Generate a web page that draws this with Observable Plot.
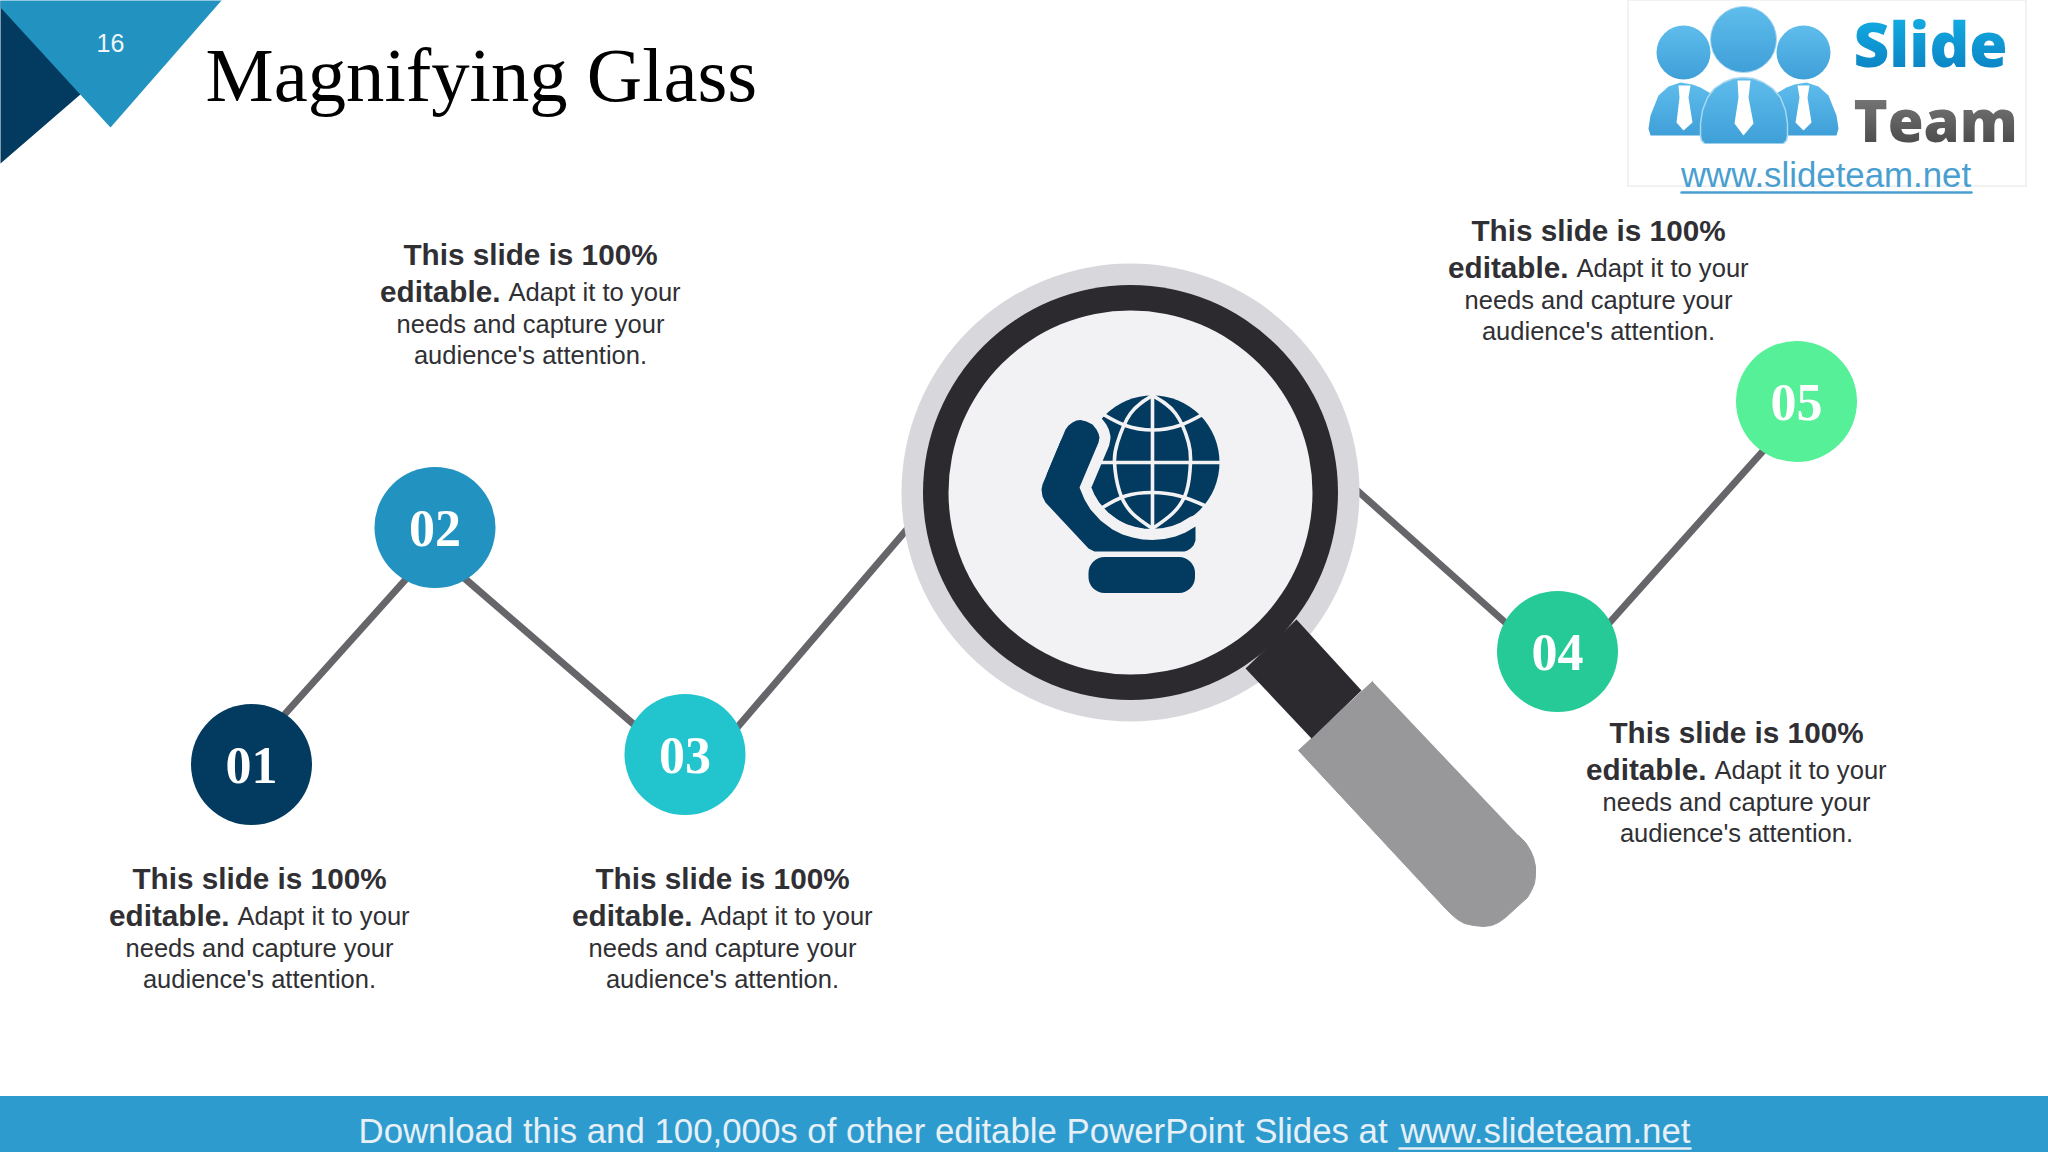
<!DOCTYPE html>
<html>
<head>
<meta charset="utf-8">
<style>html,body{margin:0;padding:0;background:#fff}svg{display:block}</style>
<script src="https://cdn.jsdelivr.net/npm/d3@7"></script>
<script src="https://cdn.jsdelivr.net/npm/@observablehq/plot@0.6"></script>
</head>
<body>
<script>
const pageTitle = "Magnifying Glass";
const pageNumber = "16";
const footerStart = "Download this and 100,000s of other editable PowerPoint Slides at ";
const footerLink = "www.slideteam.net";

const stepLabels = ["01","02","03","04","05"];
const stepX = [251,434.5,684.5,1557,1796];
const stepY = [764,527,754,651,401];
const stepColors = ["#033a5f","#2292c0","#22c5cd","#26ca97","#56f098"];

const blockX = [259,530,722,1598,1736];
const blockY = [879,255,879,231,733];
const line1 = "This slide is 100%";
const line2Bold = "editable.";
const line2 = "Adapt it to your";
const line3 = "needs and capture your";
const line4 = "audience's attention.";

const connectors = [
  [[275,724],[415,568]],
  [[455,570],[645,734]],
  [[729,736],[914,520]],
  [[1350,484],[1516,632]],
  [[1602,630],[1771,441]]
];

const triDark = [[0,0],[110,127],[81,93],[0,163]];
const triLight = [[0,7],[0,0],[221,0],[110,127]];

const glass = {x:1130,y:492};
const ringRadii = [229,207.5,182];
const ringColors = ["#d8d7dc","#2c2a2e","#f2f2f4"];
const shaft = [[1296,619],[1361,690],[1311,738],[1245,668]];
const grip = [[1372,681],[1298,750],[1445,908],[1450,913],[1457,919],[1464,923],[1473,925],[1483,926],[1491,925],[1498,922],[1505,917],[1527,897],[1531,890],[1534,883],[1535,875],[1535,866],[1533,857],[1530,850],[1525,842],[1518,835]];

const globe = {x:1152,y:462,r:67};
const meridianL = [[1152,395],[1130,413],[1117,442],[1114,462],[1119,491],[1132,513],[1152,528]];
const meridianR = [[1152,395],[1175,413],[1188,442],[1190,462],[1186,491],[1172,513],[1152,528]];
const latUp = [[1103,414],[1125,425],[1152,429.5],[1179,425],[1202,414]];
const latDown = [[1102,507],[1125,495.5],[1152,492],[1179,495.5],[1204,505]];
const gridV = [[1152,395],[1152,528]];
const gridH = [[1095,462],[1219,462]];
const hand = [[1065,429],[1068,425],[1072,422],[1076,420],[1080,419.6],[1086,421],[1092,424],[1096,429],[1098,433],[1099,437],[1098,442],[1079,487],[1084,499],[1090,509],[1100,520],[1112,529],[1122,534],[1132,537],[1142,539],[1152,539.5],[1164,538.5],[1175,536],[1185,532],[1195,526],[1195,540],[1193,545],[1190,548],[1187,550],[1184,551],[1094,551],[1088,548],[1045,502],[1042,496],[1041,489],[1042,484]];
const pedestal = {x1:1088.5,x2:1195,y1:557,y2:593};

const logoBox = {x1:1628,x2:2026,y1:0,y2:186};
const headX = [1683,1803,1743];
const headY = [52,52,39];
const bodyL = [[1650,135],[1648,128],[1650,115],[1658,95],[1668,86],[1680,82],[1692,84],[1700,87],[1712,94],[1712,135]];
const bodyR = [[1836,135],[1838,128],[1836,115],[1828,95],[1818,86],[1806,82],[1794,84],[1786,87],[1774,94],[1774,135]];
const bodyC = [[1704,143],[1701,140],[1700,135],[1700,123],[1702,110],[1707,97],[1714,88],[1723,82],[1733,78],[1743,77],[1753,78],[1763,82],[1772,88],[1780,97],[1785,110],[1787,123],[1787,135],[1786,140],[1783,143]];
const tieC = [[1737,80],[1750,80],[1748,97],[1753,123],[1743,135],[1734,123],[1738,97]];
const tieL = [[1678,85],[1690,85],[1688,97],[1692,122],[1683,130],[1676,122],[1679,97]];
const tieR = [[1797,85],[1809,85],[1807,97],[1811,122],[1803,130],[1795,122],[1799,97]];

const poly = (pts, fill, extra = {}) => Plot.line(pts, {x:d=>d[0], y:d=>d[1], fill, stroke:"none", ...extra});
const path = (pts, stroke, strokeWidth, extra = {}) => Plot.line(pts, {x:d=>d[0], y:d=>d[1], stroke, strokeWidth, ...extra});
const label = (x, y, text, o) => Plot.text([0], {x:()=>x, y:()=>y, text:()=>text, ...o});

const sans = "Liberation Sans";
const serif = "Liberation Serif";
const ink = "#303034";

function defs() {
  const d = d3.create("svg:defs");
  const grad = (id, a, b) => {
    const g = d.append("linearGradient").attr("id", id).attr("x1",0).attr("y1",0).attr("x2",0).attr("y2",1);
    g.append("stop").attr("offset","0").attr("stop-color",a);
    g.append("stop").attr("offset","1").attr("stop-color",b);
  };
  grad("gSlide","#14b8ec","#0a78bb");
  grad("gTeam","#858585","#3f3f3f");
  grad("gPerson","#5fbdec","#3f9fd8");
  return d.node();
}

const blockMarks = blockX.flatMap((cx, i) => {
  const y = blockY[i];
  return [
    label(cx, y, line1, {fontFamily:sans, fontSize:29.7, fontWeight:"bold", fill:ink}),
    label(cx-30, y+37, line2Bold, {fontFamily:sans, fontSize:29.7, fontWeight:"bold", fill:ink, textAnchor:"end"}),
    label(cx-22, y+37, line2, {fontFamily:sans, fontSize:25.6, fill:ink, textAnchor:"start"}),
    label(cx, y+69, line3, {fontFamily:sans, fontSize:25.5, fill:ink}),
    label(cx, y+100, line4, {fontFamily:sans, fontSize:25.5, fill:ink})
  ];
});

const chart = Plot.plot({
  width:2048, height:1152, margin:0,
  x:{domain:[0,2048], range:[0,2048], axis:null},
  y:{domain:[0,1152], range:[0,1152], axis:null},
  style:{background:"#fff"},
  marks:[
    defs,
    // page corner
    poly(triDark,"#033a5f"),
    poly(triLight,"#2292c0"),
    label(110,43,pageNumber,{fontFamily:sans,fontSize:25,fill:"#eef6fa"}),
    label(205,76,pageTitle,{fontFamily:serif,fontSize:76.7,fill:"#000",textAnchor:"start"}),
    // logo
    Plot.rect([logoBox],{x1:"x1",x2:"x2",y1:"y1",y2:"y2",fill:"#fff",stroke:"#eeeeee",strokeWidth:1.5}),
    Plot.dot([0,1],{x:i=>headX[i],y:i=>headY[i],r:27,fill:"url(#gPerson)"}),
    poly(bodyL,"url(#gPerson)"),
    poly(bodyR,"url(#gPerson)"),
    Plot.dot([2],{x:i=>headX[i],y:i=>headY[i],r:33,fill:"url(#gPerson)",stroke:"#a9d7f0",strokeWidth:1}),
    poly(bodyC,"url(#gPerson)",{stroke:"#a9d7f0",strokeWidth:1.5}),
    poly(tieC,"#fff"),poly(tieL,"#fff"),poly(tieR,"#fff"),
    label(1853,47,"Slide",{fontFamily:"Open Sans",fontWeight:800,fontSize:62,fill:"url(#gSlide)",textAnchor:"start"}),
    label(1853,123,"Team",{fontFamily:"Open Sans",fontWeight:800,fontSize:58,fill:"url(#gTeam)",textAnchor:"start"}),
    label(1825.5,175,"www.slideteam.net",{fontFamily:sans,fontSize:34.8,fill:"#4a9fd0"}),
    path([[1681,192],[1971,192]],"#4a9fd0",2.5),
    // connectors
    ...connectors.map(c=>path(c,"#666569",7,{strokeLinecap:"butt"})),
    // magnifier
    poly(grip,"#98979a",{stroke:"#98979a",strokeWidth:1}),
    Plot.dot([0],{x:()=>glass.x,y:()=>glass.y,r:ringRadii[0],fill:ringColors[0]}),
    poly(shaft,ringColors[1]),
    Plot.dot([0],{x:()=>glass.x,y:()=>glass.y,r:ringRadii[1],fill:ringColors[1]}),
    Plot.dot([0],{x:()=>glass.x,y:()=>glass.y,r:ringRadii[2],fill:ringColors[2]}),
    // globe in hand
    Plot.dot([0],{x:()=>globe.x,y:()=>globe.y,r:globe.r,fill:"#033a5f"}),
    ...[meridianL,meridianR,latUp,latDown].map(p=>path(p,ringColors[2],3.6,{curve:"natural"})),
    path(gridV,ringColors[2],3.6),
    path(gridH,ringColors[2],3.6),
    poly(hand,"#033a5f",{stroke:ringColors[2],strokeWidth:22}),
    poly(hand,"#033a5f"),
    Plot.rect([pedestal],{x1:"x1",x2:"x2",y1:"y1",y2:"y2",fill:"#033a5f",rx:16}),
    // steps
    ...stepLabels.map((s,i)=>Plot.dot([i],{x:j=>stepX[j],y:j=>stepY[j],r:60.5,fill:stepColors[i]})),
    Plot.text(stepLabels,{x:(d,i)=>stepX[i],y:(d,i)=>stepY[i]+2,text:d=>d,fontFamily:serif,fontWeight:"bold",fontSize:52,fill:"#fff"}),
    // text blocks
    ...blockMarks,
    // footer
    Plot.rect([{x1:0,x2:2048,y1:1096,y2:1152}],{x1:"x1",x2:"x2",y1:"y1",y2:"y2",fill:"#2e9bcf"}),
    label(358,1131,footerStart,{fontFamily:sans,fontSize:34.8,fill:"#e6f0f6",textAnchor:"start"}),
    label(1690,1131,footerLink,{fontFamily:sans,fontSize:34.8,fill:"#e6f0f6",textAnchor:"end"}),
    path([[1399,1148],[1690,1148]],"#e6f0f6",2.5)
  ]
});
document.body.appendChild(chart);
</script>
</body>
</html>
